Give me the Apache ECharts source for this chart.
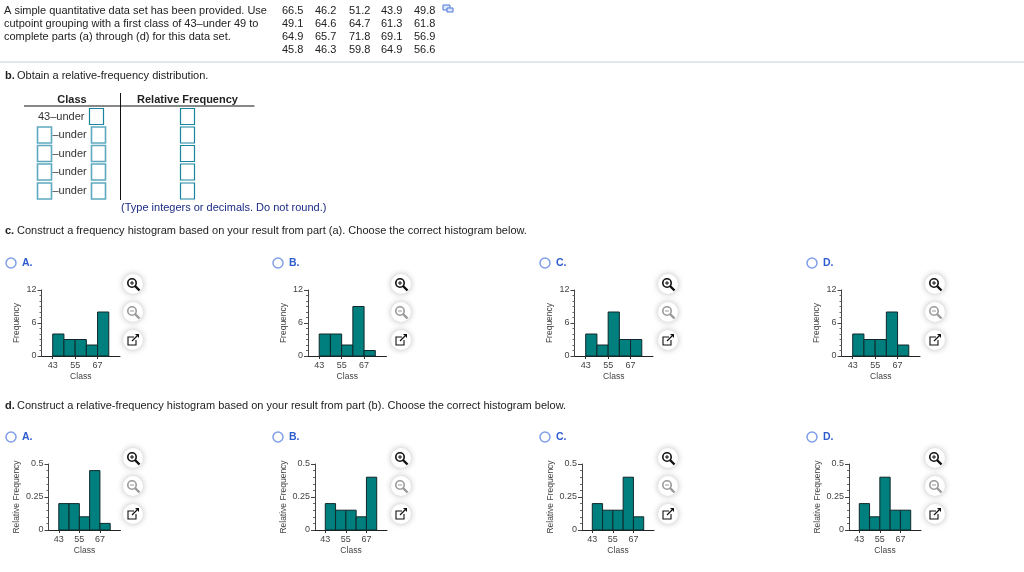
<!DOCTYPE html>
<html>
<head>
<meta charset="utf-8">
<title>Histogram question</title>
<script src="https://cdn.jsdelivr.net/npm/echarts@6/dist/echarts.min.js"></script>
<style>
html,body{margin:0;padding:0;background:#fff;}
#main{width:1024px;height:572px;}
</style>
</head>
<body>
<div id="main"></div>
<script type="text/javascript">
// data
var classEdges = [43, 49, 55, 61, 67, 73];
var xTicks = [43, 55, 67];
var freqA = [4, 3, 3, 2, 8];
var freqB = [4, 4, 2, 9, 1];
var freqC = [4, 2, 8, 3, 3];
var freqD = [4, 3, 3, 8, 2];
var relA = [0.2, 0.2, 0.1, 0.45, 0.05];
var relB = [0.2, 0.15, 0.15, 0.1, 0.4];
var relC = [0.2, 0.15, 0.15, 0.4, 0.1];
var relD = [0.2, 0.1, 0.4, 0.15, 0.15];
var dataRows = [
    ['66.5', '46.2', '51.2', '43.9', '49.8'],
    ['49.1', '64.6', '64.7', '61.3', '61.8'],
    ['64.9', '65.7', '71.8', '69.1', '56.9'],
    ['45.8', '46.3', '59.8', '64.9', '56.6']
];
var introLines = [
    'A simple quantitative data set has been provided. Use',
    'cutpoint grouping with a first class of 43\u2013under 49 to',
    'complete parts (a) through (d) for this data set.'
];

var FONT = '"Liberation Sans", Arial, sans-serif';
var TEAL = '#007f7f';
var gfx = [];

function txt(x, y, s, size, color, weight, align) {
    gfx.push({
        type: 'text', x: x, y: y + 1, silent: true,
        style: {
            text: s, fontFamily: FONT, fontSize: size, fill: color,
            fontWeight: weight || 'normal', textAlign: align || 'left', textVerticalAlign: 'middle'
        }
    });
}
function line(x1, y1, x2, y2, color, w) {
    gfx.push({
        type: 'line', silent: true, shape: { x1: x1, y1: y1, x2: x2, y2: y2 },
        style: { stroke: color, lineWidth: w }
    });
}
function box(x, y, w, h, color, lw) {
    gfx.push({
        type: 'rect', silent: true, shape: { x: x, y: y, width: w, height: h },
        style: { fill: '#fff', stroke: color, lineWidth: lw || 1.2 }
    });
}
function circ(x, y, r, fill, stroke, lw, shadow) {
    var st = { fill: fill, stroke: stroke, lineWidth: lw || 0 };
    if (shadow) {
        st.shadowBlur = 6;
        st.shadowColor = 'rgba(0,0,0,0.28)';
    }
    gfx.push({ type: 'circle', silent: true, shape: { cx: x, cy: y, r: r }, style: st });
}
function lens(cx, cy, color, plus) {
    circ(cx, cy, 10, '#fff', null, 0, true);
    circ(cx - 1, cy - 1, 4.2, 'none', color, 1.6);
    line(cx + 2, cy + 2, cx + 6.5, cy + 6.5, color, 2.4);
    line(cx - 3, cy - 1, cx + 1, cy - 1, color, 1);
    if (plus) line(cx - 1, cy - 3, cx - 1, cy + 1, color, 1);
}
function popout(cx, cy) {
    circ(cx, cy, 10, '#fff', null, 0, true);
    gfx.push({
        type: 'polyline', silent: true,
        shape: { points: [[cx + 1, cy - 3], [cx - 5, cy - 3], [cx - 5, cy + 5], [cx + 3, cy + 5], [cx + 3, cy]] },
        style: { fill: 'none', stroke: '#111', lineWidth: 1.1 }
    });
    line(cx - 1, cy + 1, cx + 4, cy - 4, '#111', 1.2);
    gfx.push({
        type: 'polygon', silent: true,
        shape: { points: [[cx + 2, cy - 6], [cx + 6, cy - 6], [cx + 6, cy - 2]] },
        style: { fill: '#111' }
    });
}
function buttons(x, y0) {
    lens(x, y0, '#111', true);
    lens(x, y0 + 28, '#999', false);
    popout(x, y0 + 56);
}
function radio(x, y, letter) {
    circ(x, y, 5, '#fff', '#7f9fe8', 1.5);
    txt(x + 11, y - 1, letter, 10.5, '#2d5ccf', 'bold');
}

// question text
introLines.forEach(function (s, i) { txt(4, 9.5 + i * 13.4, s, 11, '#222'); });
var dataColX = [282, 315, 349, 381, 414];
dataRows.forEach(function (r, i) {
    r.forEach(function (v, j) { txt(dataColX[j], 9.5 + i * 13.2, v, 11, '#222'); });
});
gfx.push({ type: 'rect', silent: true, shape: { x: 443, y: 5, width: 7, height: 5 }, style: { fill: '#dfe8fb', stroke: '#4a78d8', lineWidth: 1 } });
gfx.push({ type: 'rect', silent: true, shape: { x: 447, y: 8, width: 6, height: 4 }, style: { fill: '#dfe8fb', stroke: '#4a78d8', lineWidth: 1 } });
line(0, 62, 1024, 62, '#d8dfe8', 1.5);

txt(5, 75, 'b.', 11, '#222', 'bold');
txt(17, 75, 'Obtain a relative-frequency distribution.', 11, '#222');

// answer table
txt(72, 98.5, 'Class', 11, '#222', 'bold', 'center');
txt(187.5, 98.5, 'Relative Frequency', 11, '#222', 'bold', 'center');
line(24, 106, 254.5, 106, '#111', 1);
line(120.5, 93, 120.5, 200, '#111', 1);
var rowTops = [108.5, 127, 145.5, 164, 183];
rowTops.forEach(function (y, i) {
    if (i === 0) {
        txt(38, y + 7, '43\u2013under', 11, '#333');
        box(89.5, y, 14, 16, '#1b84a0');
    } else {
        box(37.5, y, 14, 16, '#5ea9c0', 1.6);
        txt(52.5, y + 7, '\u2013under', 11, '#333');
        box(91.5, y, 14, 16, '#5ea9c0', 1.6);
    }
    box(180.5, y, 14, 16, '#1b84a0');
});
txt(121, 206.5, '(Type integers or decimals. Do not round.)', 11, '#1b2a85');

txt(5, 230, 'c.', 11, '#222', 'bold');
txt(17, 230, 'Construct a frequency histogram based on your result from part (a). Choose the correct histogram below.', 11, '#222');
txt(5, 404.5, 'd.', 11, '#222', 'bold');
txt(17, 404.5, 'Construct a relative-frequency histogram based on your result from part (b). Choose the correct histogram below.', 11, '#222');

// the eight answer options
var letters = ['A.', 'B.', 'C.', 'D.'];
var radioX = [11, 278, 545, 812];
var buttonX = [133, 401, 668, 935];
var freqLeft = [41.5, 308, 574.5, 841.5];
var relLeft = [48.5, 315, 582, 849];
var freqSets = [freqA, freqB, freqC, freqD];
var relSets = [relA, relB, relC, relD];

var grids = [], xAxes = [], yAxes = [], seriesList = [];

function histBars(params, api) {
    var a = api.coord([api.value(0), api.value(2)]);
    var b = api.coord([api.value(1), 0]);
    return {
        type: 'rect',
        shape: { x: a[0], y: a[1], width: b[0] - a[0], height: b[1] - a[1] },
        style: { fill: TEAL, stroke: '#10282a', lineWidth: 1 }
    };
}

function addHist(left, top, width, values, yMax, yStep, minorSplit, yName, yGap) {
    var idx = grids.length;
    grids.push({ left: left, top: top, width: width, height: 66 });
    xAxes.push({
        type: 'value', gridIndex: idx, min: 37, max: 79,
        name: 'Class', nameLocation: 'middle', nameGap: 16,
        nameTextStyle: { fontFamily: FONT, fontSize: 8.5, color: '#444' },
        axisLine: { show: true, lineStyle: { color: '#222', width: 1 } },
        axisTick: { show: true, customValues: xTicks, length: 3, lineStyle: { color: '#333' } },
        axisLabel: { show: true, customValues: xTicks, margin: 5, fontFamily: FONT, fontSize: 9, color: '#444' },
        splitLine: { show: false }
    });
    yAxes.push({
        type: 'value', gridIndex: idx, min: 0, max: yMax, interval: yStep,
        name: yName, nameLocation: 'middle', nameRotate: 90, nameGap: yGap,
        nameTextStyle: { fontFamily: FONT, fontSize: 8.5, color: '#444' },
        axisLine: { show: true, lineStyle: { color: '#444', width: 1 } },
        axisTick: { show: true, length: 4, lineStyle: { color: '#444' } },
        minorTick: { show: true, splitNumber: minorSplit, length: 2, lineStyle: { color: '#666' } },
        axisLabel: { margin: 5, fontFamily: FONT, fontSize: 9, color: '#444' },
        splitLine: { show: false }
    });
    seriesList.push({
        type: 'custom', xAxisIndex: idx, yAxisIndex: idx, silent: true, clip: false,
        renderItem: histBars,
        encode: { x: [0, 1], y: 2 },
        data: values.map(function (v, i) { return [classEdges[i], classEdges[i + 1], v]; }),
        z: 3
    });
}

letters.forEach(function (letter, i) {
    radio(radioX[i], 263, letter);
    radio(radioX[i], 437, letter);
    buttons(buttonX[i], 284);
    buttons(buttonX[i], 458);
    addHist(freqLeft[i], 290, 78.5, freqSets[i], 12, 6, 6, 'Frequency', 20);
    addHist(relLeft[i], 464, 72, relSets[i], 0.5, 0.25, 5, 'Relative Frequency', 27);
});

var myChart = echarts.init(document.getElementById('main'));
myChart.setOption({
    animation: false,
    backgroundColor: '#fff',
    grid: grids,
    xAxis: xAxes,
    yAxis: yAxes,
    series: seriesList,
    graphic: { elements: gfx }
});
</script>
</body>
</html>
